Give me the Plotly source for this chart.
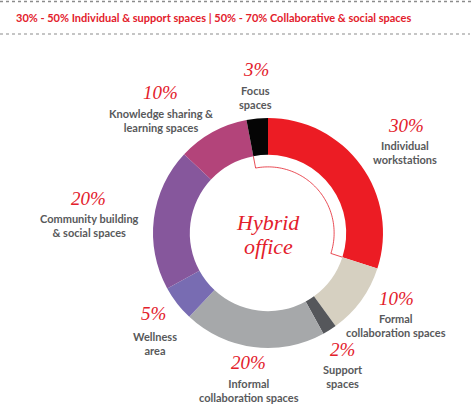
import numpy as np
import plotly.graph_objects as go

# data, clockwise from 12 o'clock
categories = [
    "Individual workstations",
    "Formal collaboration spaces",
    "Support spaces",
    "Informal collaboration spaces",
    "Wellness area",
    "Community building & social spaces",
    "Knowledge sharing & learning spaces",
    "Focus spaces",
]
shares = [30, 10, 2, 20, 5, 20, 10, 3]
label_lines = [
    "Individual<br>workstations",
    "Formal<br>collaboration spaces",
    "Support<br>spaces",
    "Informal<br>collaboration spaces",
    "Wellness<br>area",
    "Community building<br>& social spaces",
    "Knowledge sharing &<br>learning spaces",
    "Focus<br>spaces",
]
title_text = "30% - 50% Individual & support spaces | 50% - 70% Collaborative & social spaces"
center_text = ["Hybrid", "office"]

slice_colors = ["#EC1C24", "#D6D0C1", "#55575B", "#A6A8AA",
                "#786CB2", "#86579C", "#B3447A", "#050505"]
RED = "#E3202B"
GREY = "#58595B"

W, H = 474, 420
# donut placement in pixels
cx, cy, R = 268, 233, 115
hole = 0.68
dom_x = [(cx - R) / W, (cx + R) / W]
dom_y = [1 - (cy + R) / H, 1 - (cy - R) / H]

# label anchor points (pixels): percent line, then label block
label_pos = [
    (406, 125, 405, 152),
    (396, 298, 396, 325),
    (342, 349, 343, 376),
    (248, 362, 249, 390),
    (153, 313, 155, 343),
    (88, 198, 89, 225),
    (160, 92, 161, 121),
    (256, 70, 256, 97),
]

fig = go.Figure()
fig.add_trace(go.Pie(
    labels=categories,
    values=shares,
    hole=hole,
    sort=False,
    direction="clockwise",
    rotation=0,
    marker=dict(colors=slice_colors, line=dict(width=0)),
    textinfo="none",
    hoverinfo="label+percent",
    domain=dict(x=dom_x, y=dom_y),
    showlegend=False,
))

# thin bracket inside the hole: from start of Focus slice to end of Individual slice
total = sum(shares)
a0 = -shares[-1] / total * 360
a1 = shares[0] / total * 360
r_in = 0.575
theta = np.linspace(a0, a1, 80)
br_theta = np.concatenate([[a0], theta, [a1]])
br_r = np.concatenate([[hole], np.full(len(theta), r_in), [hole]])
fig.add_trace(go.Scatterpolar(
    r=br_r, theta=br_theta, mode="lines",
    line=dict(color=RED, width=0.8),
    hoverinfo="skip", showlegend=False,
))
fig.update_layout(polar=dict(
    domain=dict(x=dom_x, y=dom_y),
    bgcolor="rgba(0,0,0,0)",
    radialaxis=dict(range=[0, 1], visible=False),
    angularaxis=dict(rotation=90, direction="clockwise", visible=False),
))

annotations = []
for v, txt, (px, py, lx, ly) in zip(shares, label_lines, label_pos):
    annotations.append(dict(
        x=px / W, y=1 - py / H, xref="paper", yref="paper",
        text=f"<i>{v}%</i>", showarrow=False,
        font=dict(family="Liberation Serif", size=19, color=RED),
        xanchor="center", yanchor="middle",
    ))
    annotations.append(dict(
        x=lx / W, y=1 - ly / H, xref="paper", yref="paper",
        text=f"<b>{txt}</b>", showarrow=False,
        font=dict(family="Lato", size=11, color=GREY),
        xanchor="center", yanchor="middle",
    ))
for t, py in zip(center_text, [222, 246]):
    annotations.append(dict(
        x=cx / W, y=1 - py / H, xref="paper", yref="paper",
        text=f"<i>{t}</i>", showarrow=False,
        font=dict(family="Liberation Serif", size=22, color=RED),
        xanchor="center", yanchor="middle",
    ))
annotations.append(dict(
    x=14 / W, y=1 - 18 / H, xref="paper", yref="paper",
    text=f"<b>{title_text}</b>", showarrow=False,
    font=dict(family="Lato", size=11, color=RED),
    xanchor="left", yanchor="middle",
))

shapes = [
    dict(type="line", xref="paper", yref="paper", x0=0, x1=1,
         y0=1 - 1.5 / H, y1=1 - 1.5 / H, line=dict(color="#8C8C8C", width=1.5, dash="dot")),
    dict(type="line", xref="paper", yref="paper", x0=0, x1=470 / W,
         y0=1 - 34 / H, y1=1 - 34 / H, line=dict(color="#8C8C8C", width=1.2, dash="dot")),
]

fig.update_layout(
    width=W, height=H,
    margin=dict(l=0, r=0, t=0, b=0),
    paper_bgcolor="white", plot_bgcolor="white",
    annotations=annotations,
    shapes=shapes,
)

# drop the default 8px page margin so the figure sits at the window origin
fig.write_html("out.html", config={"displayModeBar": False},
               post_script="document.body.style.margin='0';")
